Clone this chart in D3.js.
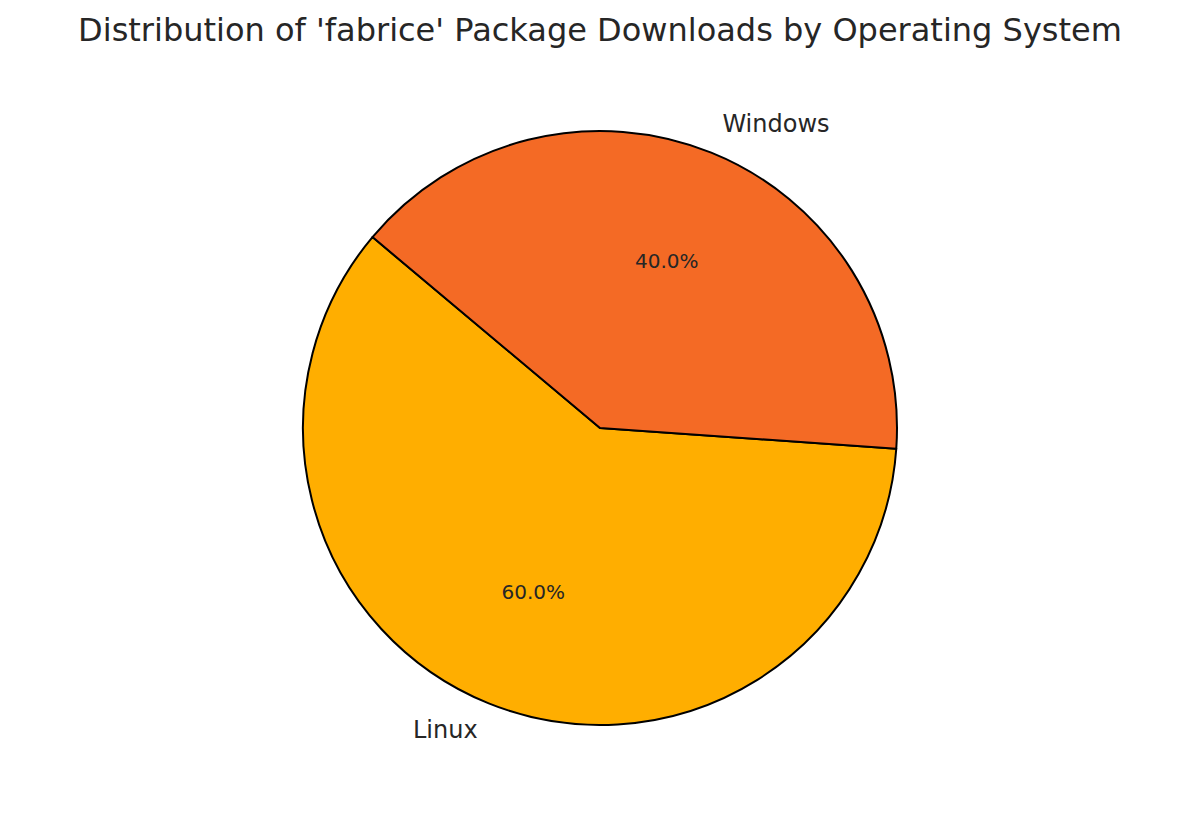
<!DOCTYPE html>
<meta charset="utf-8">
<style>
body { margin:0; background:#fff; }
text { font-family: "DejaVu Sans", sans-serif; fill:#262626; }
</style>
<script src="https://d3js.org/d3.v7.min.js"></script>
<body>
<svg width="1200" height="816"></svg>
<script>
var labels = ["Linux", "Windows"];
var values = [60, 40];
var colors = ["#FFAE00", "#F46A25"];

var svg = d3.select("svg");
var cx = 600, cy = 428, r = 297;

svg.append("text")
   .attr("x", 600).attr("y", 32)
   .attr("text-anchor", "middle").attr("dominant-baseline", "middle")
   .style("font-size", "32px")
   .text("Distribution of 'fabrice' Package Downloads by Operating System");

// matplotlib startangle=140, counterclockwise
var start = (90 - 140) * Math.PI / 180;
var pie = d3.pie().sort(null).startAngle(start).endAngle(start - 2 * Math.PI);
var arcs = pie(values);

var g = svg.append("g").attr("transform", "translate(" + cx + "," + cy + ")");
var arc = d3.arc().innerRadius(0).outerRadius(r);
var labelArc = d3.arc().innerRadius(r * 1.1).outerRadius(r * 1.1);
var pctArc = d3.arc().innerRadius(r * 0.6).outerRadius(r * 0.6);

g.selectAll("path.slice").data(arcs).enter().append("path")
  .attr("d", arc)
  .attr("fill", function(d, i) { return colors[i]; })
  .attr("stroke", "#000").attr("stroke-width", 2).attr("stroke-linejoin", "round");

g.selectAll("text.lbl").data(arcs).enter().append("text")
  .attr("x", function(d) { return labelArc.centroid(d)[0]; })
  .attr("y", function(d) { return labelArc.centroid(d)[1]; })
  .attr("text-anchor", function(d) { return labelArc.centroid(d)[0] < 0 ? "end" : "start"; })
  .attr("dominant-baseline", "middle")
  .style("font-size", "24px")
  .text(function(d, i) { return labels[i]; });

var total = d3.sum(values);
g.selectAll("text.pct").data(arcs).enter().append("text")
  .attr("x", function(d) { return pctArc.centroid(d)[0]; })
  .attr("y", function(d) { return pctArc.centroid(d)[1]; })
  .attr("text-anchor", "middle").attr("dominant-baseline", "middle")
  .style("font-size", "20px")
  .text(function(d) { return (d.value / total * 100).toFixed(1) + "%"; });
</script>
</body>
